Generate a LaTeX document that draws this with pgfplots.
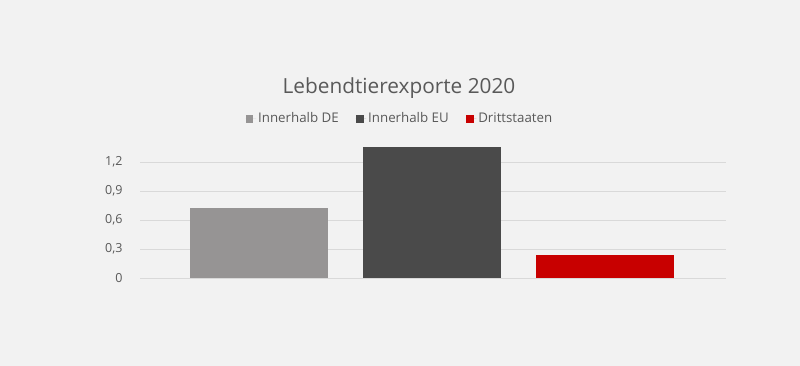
\documentclass[border=0pt]{standalone}
\usepackage{pgfplots}
\pgfplotsset{compat=1.18}
\usepackage{fontspec}
\setmainfont{Open Sans}
\definecolor{bg}{HTML}{F2F2F2}
\definecolor{cde}{HTML}{969494}
\definecolor{ceu}{HTML}{4A4A4A}
\definecolor{cdr}{HTML}{C80000}
\definecolor{txt}{HTML}{595959}
\definecolor{grd}{HTML}{D9D9D9}
\begin{document}
\begin{tikzpicture}[x=1pt,y=1pt]
\fill[bg] (0,0) rectangle (800,366);
\begin{axis}[
  at={(140pt,88pt)}, anchor=south west,
  scale only axis, width=586pt, height=135.3pt,
  xmin=-0.6850, xmax=2.6966, ymin=0, ymax=1.4,
  ytick={0,0.3,0.6,0.9,1.2},
  yticklabels={0,{0,3},{0,6},{0,9},{1,2}},
  xtick=\empty,
  axis line style={draw=none},
  ymajorgrids, grid style={grd, line width=0.8pt},
  major tick length=0pt,
  tick label style={font=\fontsize{12.5}{14}\selectfont, text=txt},
  yticklabel style={xshift=-14pt},
  ybar, bar width=138pt, bar shift=0pt,
  title={\fontsize{20.8}{24}\selectfont Lebendtierexporte 2020},
  title style={text=txt, at={(0.5,1)}, anchor=base, yshift=43.4pt, xshift=-34pt},
  legend style={at={(0.5,1)}, anchor=south, yshift=14pt, xshift=-33pt, draw=none, fill=none,
    font=\fontsize{13.3}{16}\selectfont, text=txt, /tikz/every even column/.append style={column sep=15pt}},
  legend columns=3,
  legend image code/.code={\path (0pt,0pt) -- (10.5pt,0pt); \fill[#1] (0pt,-3.9pt) rectangle (7.8pt,3.9pt);},
  clip=false,
]
\addplot[fill=cde, draw=none] coordinates {(0,0.724)};
\addlegendentry{Innerhalb DE}
\addplot[fill=ceu, draw=none] coordinates {(1,1.355)};
\addlegendentry{Innerhalb EU}
\addplot[fill=cdr, draw=none] coordinates {(2,0.238)};
\addlegendentry{Drittstaaten}
\end{axis}
\end{tikzpicture}
\end{document}
